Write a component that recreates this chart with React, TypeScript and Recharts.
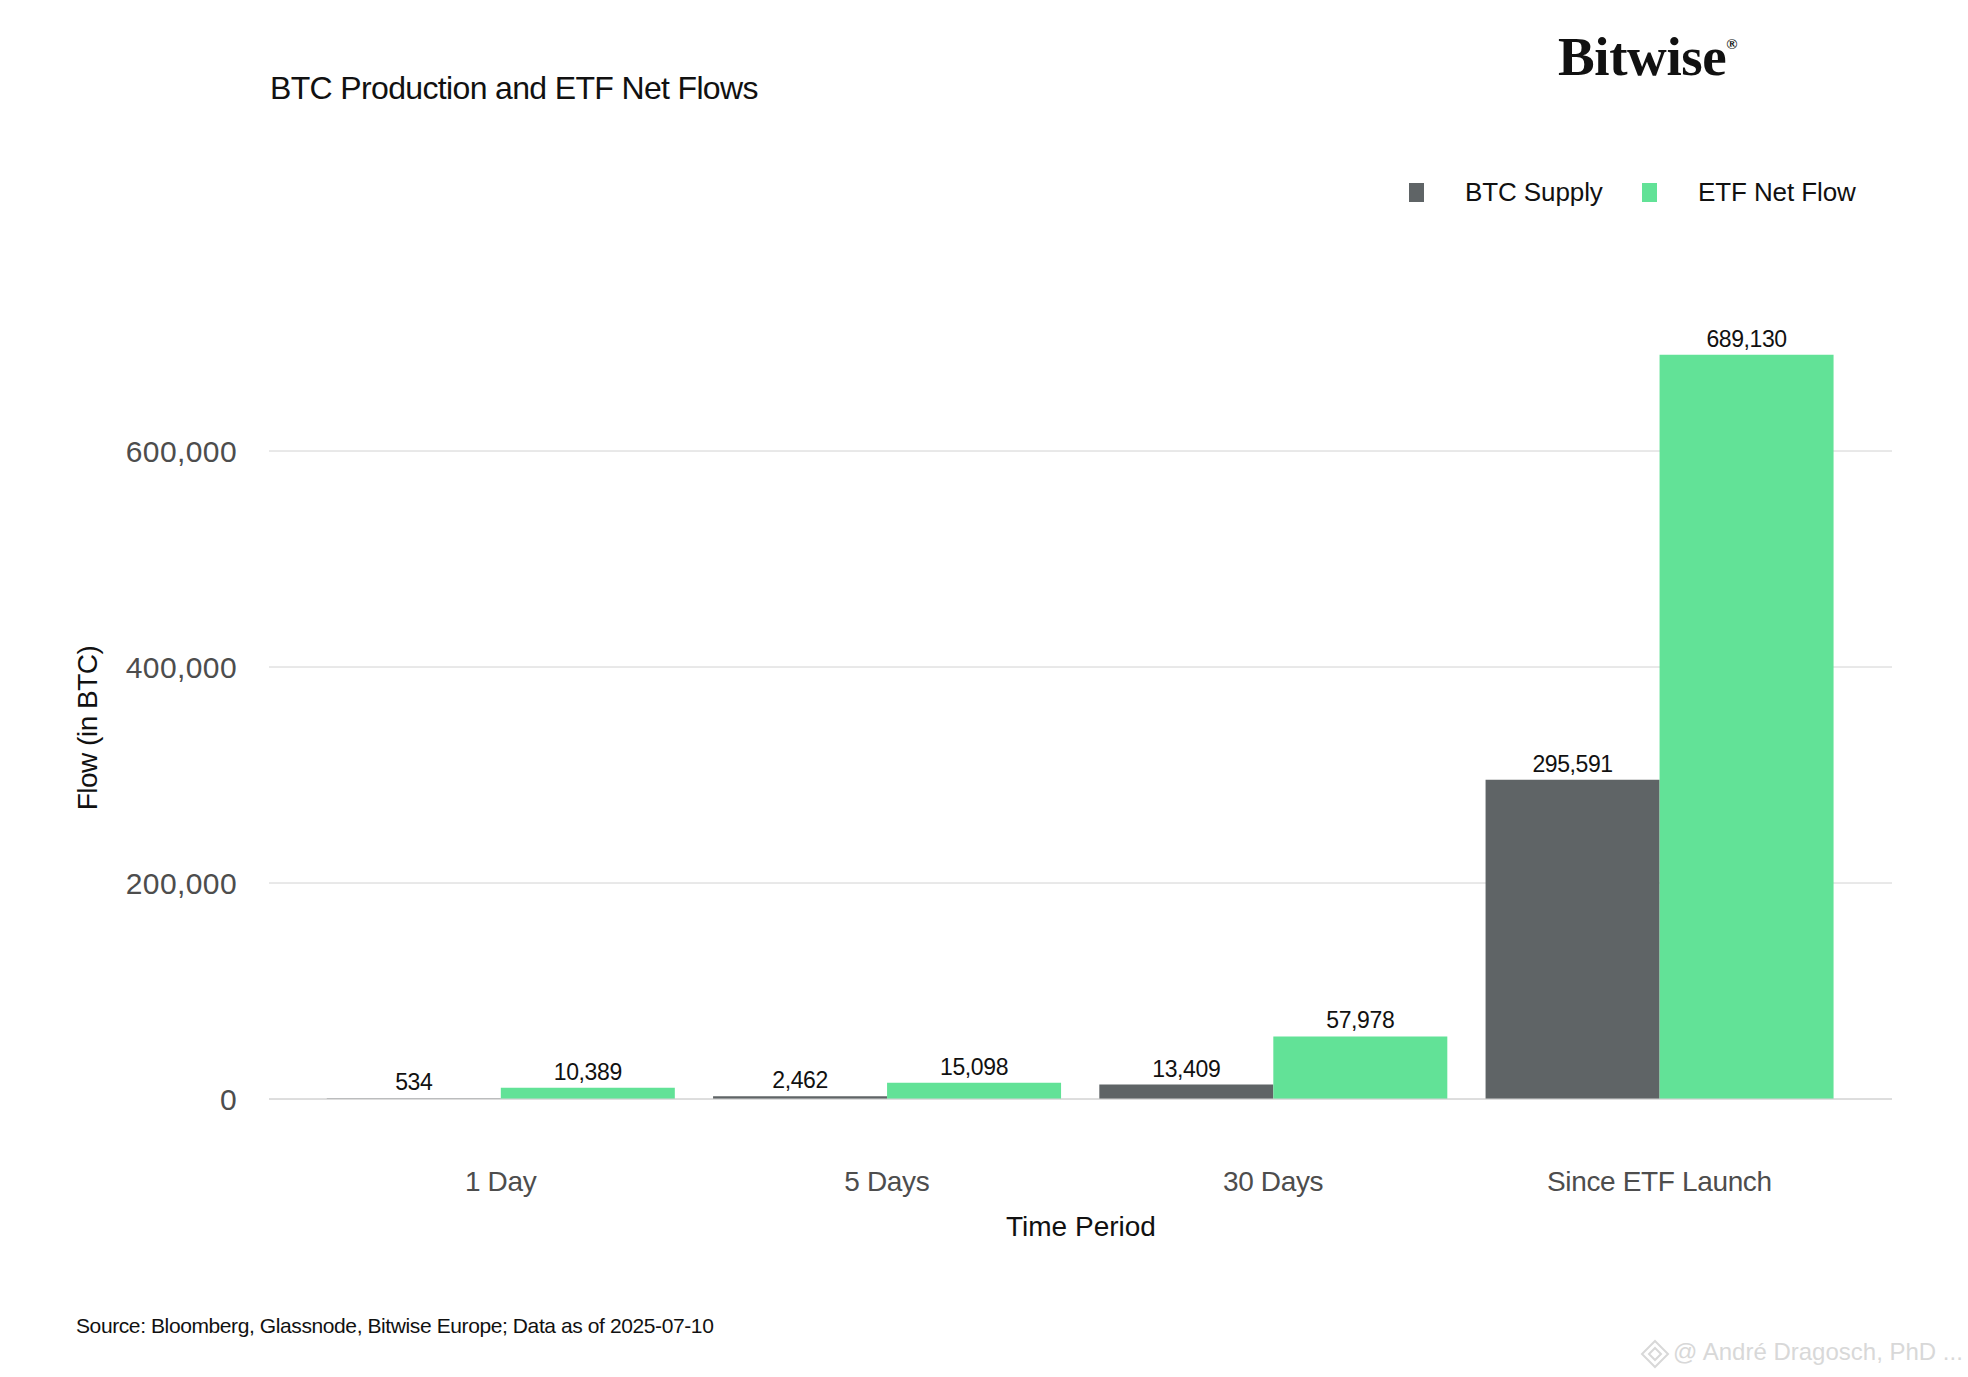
import React from "react";
import { BarChart, Bar, XAxis, YAxis, CartesianGrid, Legend, LabelList } from "recharts";

const periods = ["1 Day", "5 Days", "30 Days", "Since ETF Launch"];
const btcSupply = [534, 2462, 13409, 295591];
const etfNetFlow = [10389, 15098, 57978, 689130];
const yTicks = [0, 200000, 400000, 600000];

const chartData = periods.map((p, i) => ({
  period: p,
  "BTC Supply": btcSupply[i],
  "ETF Net Flow": etfNetFlow[i],
}));

const FONT = '"Liberation Sans", Arial, sans-serif';
const fmt = (v: number) => v.toLocaleString("en-US");

const abs = (left: number, top: number, extra: React.CSSProperties = {}): React.CSSProperties => ({
  position: "absolute",
  left,
  top,
  whiteSpace: "nowrap",
  fontFamily: FONT,
  lineHeight: 1,
  ...extra,
});

function ChartLegend({ payload }: any) {
  return (
    <div style={{ position: "relative", height: 30, fontFamily: FONT }}>
      {(payload || []).map((p: any, i: number) => (
        <div key={p.value}>
          <div style={{ position: "absolute", left: i * 233, top: 0, width: 15, height: 19, background: p.color }} />
          <div style={{ position: "absolute", left: 56 + i * 233, top: -4, fontSize: 26, letterSpacing: -0.1, lineHeight: 1, color: "#111", whiteSpace: "nowrap" }}>
            {p.value}
          </div>
        </div>
      ))}
    </div>
  );
}

export default function App() {
  return (
    <div style={{ position: "absolute", left: 0, top: 0, width: 1968, height: 1377, background: "#fff", overflow: "hidden" }}>
      <BarChart
        width={1968}
        height={1377}
        data={chartData}
        margin={{ top: 313, right: 76, left: 189, bottom: 198 }}
        barCategoryGap="5%"
        barGap={0}
      >
        <CartesianGrid horizontal vertical={false} horizontalValues={yTicks} stroke="#d2d2d2" strokeWidth={1} />
        <XAxis
          dataKey="period"
          padding={{ left: 38.5, right: 39.5 }}
          axisLine={{ stroke: "#d2d2d2" }}
          tickLine={false}
          tickMargin={66}
          height={80}
          interval={0}
          tick={{ fontSize: 28, fill: "#4d4d4d", fontFamily: FONT, letterSpacing: -0.35 }}
        />
        <YAxis
          domain={[0, 700000]}
          ticks={yTicks}
          tickFormatter={fmt}
          axisLine={false}
          tickLine={false}
          tickMargin={26}
          width={80}
          tick={{ fontSize: 30, fill: "#4d4d4d", fontFamily: FONT, letterSpacing: 0.4 }}
        />
        <Legend
          verticalAlign="top"
          align="left"
          content={<ChartLegend />}
          wrapperStyle={{ position: "absolute", left: 1409, top: 183, width: 500, height: 30 }}
        />
        <Bar dataKey="BTC Supply" fill="#5f6466" isAnimationActive={false}>
          <LabelList dataKey="BTC Supply" position="top" formatter={fmt} offset={8} style={{ fontSize: 23, fill: "#111", fontFamily: FONT, letterSpacing: -0.4 }} />
        </Bar>
        <Bar dataKey="ETF Net Flow" fill="#62e297" isAnimationActive={false}>
          <LabelList dataKey="ETF Net Flow" position="top" formatter={fmt} offset={8} style={{ fontSize: 23, fill: "#111", fontFamily: FONT, letterSpacing: -0.4 }} />
        </Bar>
      </BarChart>

      <div style={abs(270, 72, { fontSize: 32, letterSpacing: -0.65, color: "#111" })}>BTC Production and ETF Net Flows</div>
      <div style={abs(1558, 29, { fontFamily: '"Liberation Serif", serif', fontWeight: 700, fontSize: 55, letterSpacing: -0.4, color: "#111" })}>
        Bitwise<sup style={{ fontSize: 15, verticalAlign: 26, lineHeight: 0 }}>®</sup>
      </div>
      <div style={abs(1006, 1213, { fontSize: 28, letterSpacing: 0, color: "#111" })}>Time Period</div>
      <div style={abs(88, 728, { fontSize: 28, letterSpacing: -0.5, color: "#111", transform: "translate(-50%, -50%) rotate(-90deg)" })}>Flow (in BTC)</div>
      <div style={abs(76, 1315, { fontSize: 21, letterSpacing: -0.4, color: "#111" })}>Source: Bloomberg, Glassnode, Bitwise Europe; Data as of 2025-07-10</div>
      <svg style={{ position: "absolute", left: 1640, top: 1339 }} width={30} height={30} viewBox="0 0 30 30" fill="none" stroke="#d8d8d8" strokeWidth={2}>
        <path d="M15 2 L28 15 L15 28 L2 15 Z" />
        <path d="M15 9 L21 15 L15 21 L9 15 Z" />
      </svg>
      <div style={abs(1673, 1340, { fontSize: 24, letterSpacing: 0, color: "#d8d8d8" })}>@ André Dragosch, PhD ...</div>
    </div>
  );
}
